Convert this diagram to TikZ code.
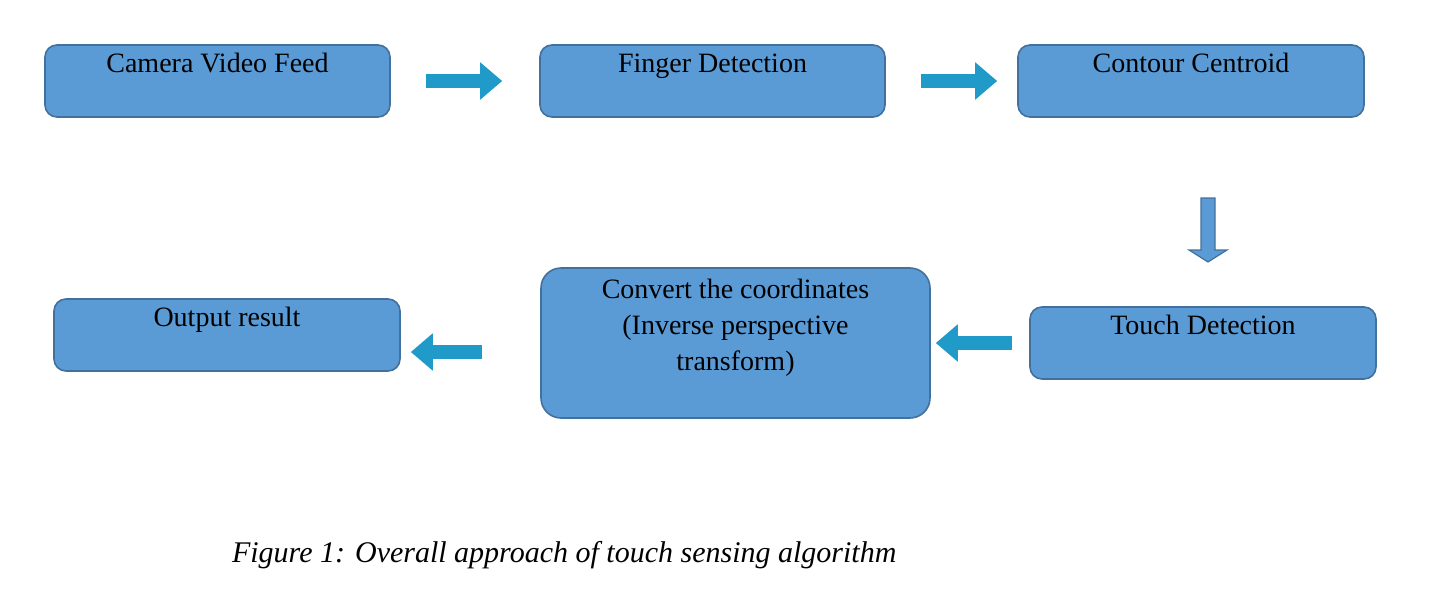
\documentclass[tikz,border=0pt]{standalone}
\usepackage{fontspec}
\setmainfont{Liberation Serif}
\usetikzlibrary{arrows.meta}
\definecolor{boxf}{HTML}{5B9BD5}
\definecolor{boxd}{HTML}{41719C}
\definecolor{arr}{HTML}{1F9AC9}
\begin{document}
\begin{tikzpicture}[x=0.5pt,y=-0.5pt,
  box/.style={draw=boxd, fill=boxf, line width=0.8pt, rounded corners=6pt, align=center,
    font=\fontsize{14pt}{18pt}\selectfont, inner sep=0pt},
  harr/.style={draw=arr, line width=7pt, -{Triangle[width=18pt,length=11pt]}}]
\useasboundingbox (0,0) rectangle (1431,611);
\node[box, minimum width=172.5pt, minimum height=36pt] (cam) at (217.5,81) {Camera Video Feed\\\mbox{}};
\node[box, minimum width=172.5pt, minimum height=36pt] (fing) at (712.5,81) {Finger Detection\\\mbox{}};
\node[box, minimum width=173pt, minimum height=36pt] (cont) at (1191,81) {Contour Centroid\\\mbox{}};
\node[box, minimum width=173pt, minimum height=36pt] (touch) at (1203,343) {Touch Detection\\\mbox{}};
\node[box, minimum width=194.5pt, minimum height=75pt, rounded corners=10pt] (conv) at (735.5,343) {Convert the coordinates\\(Inverse perspective\\transform)\\\mbox{}};
\node[box, minimum width=173pt, minimum height=36pt] (out) at (227,335) {Output result\\\mbox{}};
\draw[harr, shorten <=17.5pt, shorten >=18.5pt] (cam) -- (fing);
\draw[harr, shorten <=17.5pt, shorten >=10pt] (fing) -- (cont);
\draw[harr, shorten <=8.5pt, shorten >=2.5pt] (touch) -- (conv);
\draw[harr, shorten <=29pt, shorten >=5pt] ([yshift=-4.5pt]conv.west) -- ([yshift=-8.5pt]out.east);
\draw[draw=boxd, fill=boxf, line width=0.6pt]
  (1201,198) -- (1215,198) -- (1215,250) -- (1227,250) -- (1208,262) -- (1189,250) -- (1201,250) -- cycle;
\node[font=\fontsize{15pt}{18pt}\selectfont\itshape, anchor=west] (cap) at (225,555) {Figure 1: Overall approach of touch sensing algorithm};
\end{tikzpicture}
\end{document}
